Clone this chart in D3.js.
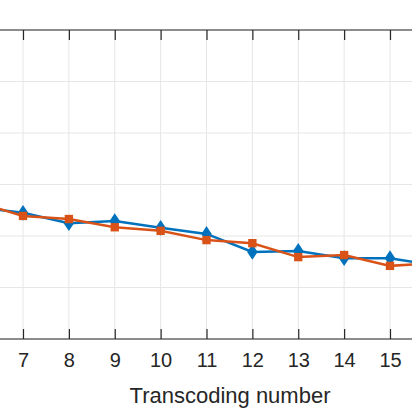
<!DOCTYPE html>
<html><head><meta charset="utf-8">
<script src="https://cdn.jsdelivr.net/npm/d3@7"></script>
<style>body{margin:0;background:#fff}svg{display:block}</style>
</head><body>
<svg id="chart" width="412" height="412"></svg>
<script>
const transcoding = [6, 7, 8, 9, 10, 11, 12, 13, 14, 15, 16];
const seriesA = [2.56, 2.45, 2.25, 2.29, 2.16, 2.04, 1.69, 1.71, 1.57, 1.57, 1.42];
const seriesB = [2.66, 2.39, 2.33, 2.17, 2.10, 1.92, 1.86, 1.59, 1.63, 1.42, 1.48];
const xTicks = [7, 8, 9, 10, 11, 12, 13, 14, 15];
const yGrid = [0, 1, 2, 3, 4, 5, 6];

const svg = d3.select("#chart");
const plotTop = 30, plotBottom = 339;
const x = d3.scaleLinear().domain([7, 15]).range([23, 390]);
const y = d3.scaleLinear().domain([0, 6]).range([plotBottom, plotTop]);

// grid
svg.append("g").selectAll("line").data(xTicks).join("line")
  .attr("x1", d => x(d)).attr("x2", d => x(d)).attr("y1", plotTop).attr("y2", plotBottom)
  .attr("stroke", "#e6e6e6").attr("stroke-width", 1);
svg.append("g").selectAll("line").data(yGrid).join("line")
  .attr("x1", 0).attr("x2", 412).attr("y1", d => y(d)).attr("y2", d => y(d))
  .attr("stroke", "#e6e6e6").attr("stroke-width", 1);

// axes
const axB = svg.append("g").attr("transform", `translate(0,${plotBottom})`)
  .call(d3.axisBottom(x).tickValues(xTicks).tickSizeInner(-10).tickSizeOuter(0).tickPadding(14));
const axT = svg.append("g").attr("transform", `translate(0,${plotTop})`)
  .call(d3.axisTop(x).tickValues(xTicks).tickSizeInner(-10).tickSizeOuter(0).tickFormat(""));
[axB, axT].forEach(a => {
  a.select(".domain").attr("d", "M0,0H412").attr("stroke", "#262626").attr("stroke-width", 1.2);
  a.selectAll(".tick line").attr("stroke", "#262626").attr("stroke-width", 1.2);
});
axB.selectAll(".tick text").attr("font-family", "Liberation Sans, Arial, sans-serif")
  .attr("font-size", 20).attr("fill", "#262626");

svg.append("text").attr("x", 230).attr("y", 403).attr("text-anchor", "middle")
  .attr("font-family", "Liberation Sans, Arial, sans-serif").attr("font-size", 22)
  .attr("fill", "#262626").text("Transcoding number");

// series
const line = d3.line().x((d, i) => x(transcoding[i])).y(d => y(d));
const plot = svg.append("g");
function drawSeries(vals, color, symbol, size) {
  plot.append("path").datum(vals).attr("d", line)
    .attr("fill", "none").attr("stroke", color).attr("stroke-width", 2.5);
  plot.selectAll(null).data(vals).join("path")
    .attr("transform", (d, i) => `translate(${x(transcoding[i])},${y(d)})`)
    .attr("d", d3.symbol().type(symbol).size(size)).attr("fill", color);
}
const diamond = { draw(ctx, s) { const r = Math.sqrt(s) / 2; ctx.moveTo(0, -r * 1.5); ctx.lineTo(r, 0); ctx.lineTo(0, r * 1.5); ctx.lineTo(-r, 0); ctx.closePath(); } };
drawSeries(seriesA, "#0072BD", diamond, 110);
drawSeries(seriesB, "#D95319", d3.symbolSquare, 70);
</script>
</body></html>
